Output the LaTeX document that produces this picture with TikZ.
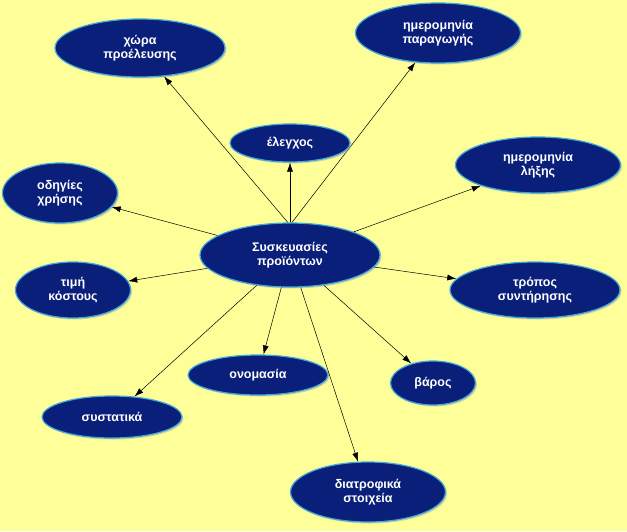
\documentclass[tikz,border=0pt]{standalone}
\usepackage{fontspec}
\setmainfont{Liberation Sans}
\usetikzlibrary{shapes.geometric,arrows.meta,shadows}
\definecolor{bg}{HTML}{FFFF99}
\definecolor{navy}{HTML}{0A1F7A}
\definecolor{rim}{HTML}{3FA8D8}
\begin{document}
\begin{tikzpicture}[x=1pt,y=-1pt,
  blob/.style={ellipse,fill=navy,draw=rim,line width=1.2pt,text=white,
    font=\bfseries\fontsize{12.5}{14}\selectfont,align=center,inner sep=0pt,
    drop shadow={shadow xshift=1.5pt,shadow yshift=-1.5pt,fill=gray!70}},
  link/.style={-{Latex[length=9pt,width=6pt]},draw=black,line width=0.5pt}]
\fill[bg] (0,0) rectangle (627,531);
\useasboundingbox (0,0) rectangle (627,531);
\node[blob,minimum width=170,minimum height=58] (xora) at (140,48) {χώρα\\προέλευσης};
\node[blob,minimum width=165,minimum height=60] (parag) at (438,33) {ημερομηνία\\παραγωγής};
\node[blob,minimum width=115,minimum height=60] (odig) at (60,193) {οδηγίες\\χρήσης};
\node[blob,minimum width=165,minimum height=56] (lixi) at (538,165) {ημερομηνία\\λήξης};
\node[blob,minimum width=115,minimum height=56] (timi) at (73,290) {τιμή\\κόστους};
\node[blob,minimum width=170,minimum height=56] (tropos) at (535,290) {τρόπος\\συντήρησης};
\node[blob,minimum width=140,minimum height=40] (onom) at (258,375) {ονομασία};
\node[blob,minimum width=85,minimum height=44] (varos) at (433,383) {βάρος};
\node[blob,minimum width=140,minimum height=42] (syst) at (112,417) {συστατικά};
\node[blob,minimum width=155,minimum height=60] (diat) at (368,492) {διατροφικά\\στοιχεία};
\coordinate (top) at (290,225);
\draw[link] (top) -- (xora);
\draw[link] (top) -- (parag);
\node[blob,minimum width=120,minimum height=38] (elen) at (290,143) {έλεγχος};
\node[blob,minimum width=180,minimum height=64] (c) at (290,255) {Συσκευασίες\\προϊόντων};
\draw[link] (c) -- (elen);
\draw[link] (c) -- (odig);
\draw[link] (c) -- (timi);
\draw[link] (c) -- (syst);
\draw[link] (c) -- (onom);
\draw[link] (c) -- (diat);
\draw[link] (c) -- (varos);
\draw[link] (c) -- (tropos);
\draw[link] (c) -- (lixi);
\end{tikzpicture}
\end{document}
